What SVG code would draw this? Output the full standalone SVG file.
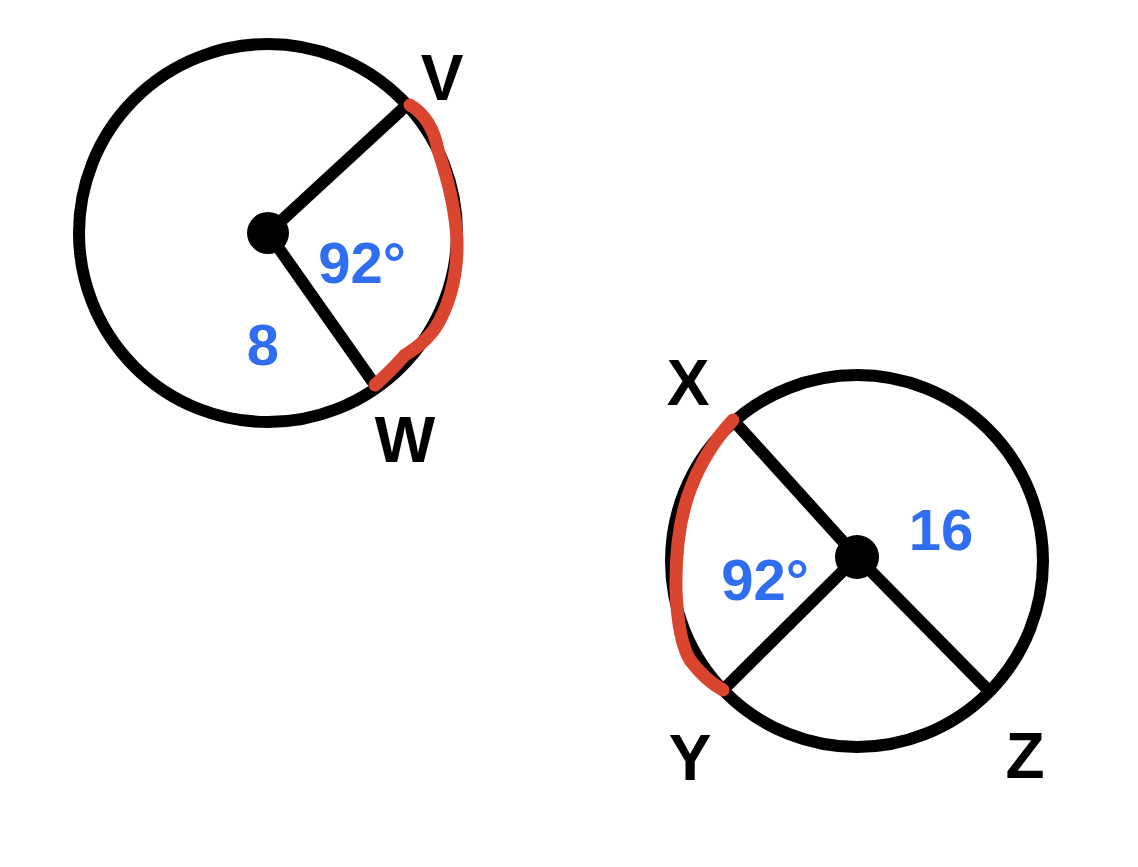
<svg xmlns="http://www.w3.org/2000/svg" width="1138" height="867" viewBox="0 0 1138 867">
<style>
.c{fill:none;stroke:#000;stroke-width:12}
.r{fill:none;stroke:#d9452f;stroke-width:13;stroke-linecap:round;stroke-linejoin:round}
.k{font-family:"Liberation Sans",sans-serif;font-weight:bold;font-size:64px;fill:#000;text-anchor:middle}
.b{font-family:"Liberation Sans",sans-serif;font-weight:bold;font-size:58px;fill:#2f6ef0;text-anchor:middle}
</style>
<rect width="1138" height="867" fill="#fff"/>
<g id="circle1">
<circle class="c" cx="268" cy="233" r="189"/>
<line class="c" x1="268" y1="233" x2="408" y2="104"/>
<line class="c" x1="268" y1="233" x2="375" y2="385"/>
<circle cx="268" cy="233" r="21" fill="#000"/>
</g>
<g id="circle2">
<circle class="c" cx="857" cy="561" r="186"/>
<line class="c" x1="857" y1="557" x2="733" y2="420"/>
<line class="c" x1="857" y1="557" x2="723" y2="690"/>
<line class="c" x1="857" y1="557" x2="990" y2="692"/>
<circle cx="857" cy="557" r="22" fill="#000"/>
</g>
<g id="arcs">
<path class="r" d="M410 105 Q432 118 438 150 Q455 200 457 240 Q458 285 440 320 Q430 340 405 355 Q390 372 375 385"/>
<path class="r" d="M733 420 Q705 450 690 490 Q675 530 676 590 Q678 640 690 660 Q705 680 723 690"/>
</g>
<g id="labels">
<text class="k" x="442" y="100">V</text>
<text class="k" x="405" y="462">W</text>
<text class="k" x="688" y="405">X</text>
<text class="k" x="690" y="780">Y</text>
<text class="k" x="1025" y="778">Z</text>
<text class="b" x="362" y="283">92°</text>
<text class="b" x="263" y="365">8</text>
<text class="b" x="765" y="600">92°</text>
<text class="b" x="941" y="550">16</text>
</g>
</svg>
